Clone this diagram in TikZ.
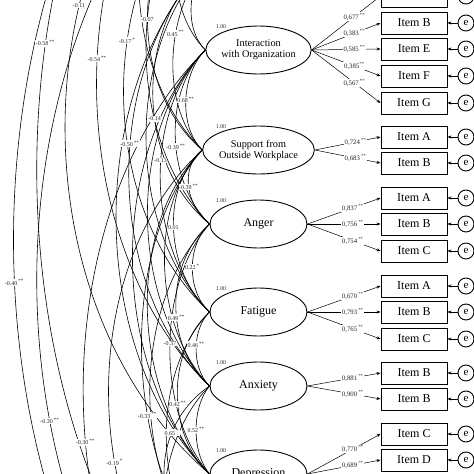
\documentclass[tikz,border=0pt]{standalone}
\usepackage{fontspec}
\setmainfont{Liberation Serif}
\usetikzlibrary{shapes.geometric,arrows.meta}
\newcommand\mysig[1]{\,\textsuperscript{#1}}
\newcommand\ArcDraw[6]{\draw[cov] (#1) .. controls +(-#3,{0.8*#4}) and +(-#3,{-0.8*#4}) .. (#2);}
\newcommand\ArcLabel[6]{\path (#1) .. controls +(-#3,{0.8*#4}) and +(-#3,{-0.8*#4}) .. node[cl,pos=#5]{#6} (#2);}
\newcommand\ArcList[1]{%
 #1{I.west}{S.west}{24}{30}{.5}{0.68\mysig{**}}
 #1{S.west}{An.west}{23}{22}{.5}{-0.39\mysig{**}}
 #1{An.west}{F.west}{23}{26}{.49}{0.22\mysig{*}}
 #1{F.west}{Ax.west}{18}{22}{.45}{0.46\mysig{**}}
 #1{Ax.west}{D.west}{18}{27}{.5}{0.52\mysig{**}}
 #1{I.west}{An.west}{43}{52}{.55}{-0.39\mysig{**}}
 #1{S.west}{F.west}{43}{49}{.48}{0.01}
 #1{An.west}{Ax.west}{45}{49}{.57}{0.49\mysig{**}}
 #1{F.west}{D.west}{43}{49}{.56}{0.42\mysig{**}}
 #1{T1}{S.west}{44}{57}{.40}{0.45\mysig{**}}
 #1{I.west}{F.west}{63}{79}{.43}{-0.13}
 #1{An.west}{D.west}{53}{75}{.48}{-0.37}
 #1{T1}{An.west}{76}{79}{.59}{-0.14}
 #1{Ax.west}{B1}{61}{52}{.29}{0.65\mysig{*}}
 #1{T1}{Ax.west}{108}{128}{.44}{-0.50\mysig{**}}
 #1{T2}{S.west}{78}{84}{.53}{-0.07}
 #1{T2}{F.west}{115}{133}{.40}{-0.17\mysig{*}}
 #1{T3}{Ax.west}{151}{182}{.465}{-0.54\mysig{**}}
 #1{Ts}{Bs}{231}{300}{.388}{-0.58\mysig{**}}
 #1{T3}{D.west}{193}{208}{.345}{-0.11}
 #1{Tu}{Bu}{262}{320}{.535}{-0.40\mysig{**}}
 #1{Tv}{Bv}{231}{274}{.637}{-0.30\mysig{**}}
 #1{I.west}{B3}{166}{207}{.56}{-0.30\mysig{**}}
 #1{S.west}{B2}{130}{150}{.61}{-0.19\mysig{*}}
 #1{S.west}{B1}{86}{123}{.63}{-0.33\mysig{**}}
}
\begin{document}
\begin{tikzpicture}[x=1pt,y=-1pt,
  lat/.style={draw,ellipse,line width=0.9pt,minimum width=97pt,minimum height=48pt,inner sep=0pt,align=center,font=\fontsize{12}{13}\selectfont},
  lattwo/.style={lat,font=\fontsize{10.3}{11}\selectfont},
  item/.style={draw,line width=0.9pt,minimum width=66pt,minimum height=22pt,inner sep=0pt,font=\fontsize{12}{13}\selectfont},
  err/.style={draw,circle,line width=0.9pt,minimum size=16pt,inner sep=0pt,font=\fontsize{11}{12}\selectfont},
  load/.style={-{Stealth[length=4pt,width=3pt]},line width=0.5pt},
  ld/.style={fill=white,inner sep=0.6pt,font=\fontsize{6.8}{7}\selectfont,text=black!85,pos=0.62},
  cov/.style={line width=0.6pt},
  cl/.style={fill=white,inner sep=0.5pt,font=\fontsize{6}{6.5}\selectfont,text=black!85},
  one/.style={font=\fontsize{5.8}{6}\selectfont,text=black!85}]
\useasboundingbox (0,0) rectangle (474,474);
\clip (0,0) rectangle (474,474);
% latent variables
\node[lattwo] (I) at (258.5,50) {Interaction\\with Organization};
\node[lattwo] (S) at (258.5,150) {Support from\\Outside Workplace};
\node[lat] (An) at (258.5,224) {Anger};
\node[lat] (F) at (258.5,312) {Fatigue};
\node[lat] (Ax) at (258.5,386) {Anxiety};
\node[lat] (D) at (258.5,474) {Depression};
\foreach \n/\y in {I/50,S/150,An/224,F/312,Ax/386,D/474}
  \node[one] (v\n) at (221,\y-23) {1.00};
% hidden ends of covariance arcs
\coordinate (T1) at (210,-40);
\coordinate (T2) at (210,-130);
\coordinate (T3) at (210,-220);
\coordinate (Ts) at (210,-330);
\coordinate (Tu) at (210,-294);
\coordinate (Tv) at (210,-176);
\coordinate (B1) at (210,560);
\coordinate (B2) at (210,650);
\coordinate (B3) at (210,740);
\coordinate (Bs) at (210,670);
\coordinate (Bu) at (210,774);
\coordinate (Bv) at (210,736);
% unlabeled arcs
\ArcDraw{T1}{I.west}{22}{27}{}{}
\ArcDraw{D.west}{B1}{20}{26}{}{}
\ArcDraw{I.west}{Ax.west}{80}{100}{}{}
\ArcDraw{S.west}{Ax.west}{55}{70}{}{}
\ArcDraw{S.west}{D.west}{78}{97}{}{}
\ArcDraw{I.west}{D.west}{100}{127}{}{}
\ArcDraw{T2}{I.west}{43}{54}{}{}
\ArcDraw{T2}{An.west}{85}{106}{}{}
\ArcDraw{T1}{F.west}{85}{105}{}{}
\ArcDraw{F.west}{B1}{58}{74}{}{}
\ArcDraw{An.west}{B1}{80}{100}{}{}
\ArcDraw{T1}{D.west}{125}{155}{}{}
\ArcDraw{T3}{S.west}{90}{110}{}{}
\ArcDraw{Ax.west}{B2}{63}{79}{}{}
% labeled arcs
\ArcList\ArcDraw
\ArcList\ArcLabel
% items
\node[item] (I0) at (414,-4) {};
\node[item] (IB) at (414,23) {Item B};
\node[item] (IE) at (414,49) {Item E};
\node[item] (IF) at (414,76) {Item F};
\node[item] (IG) at (414,103) {Item G};
\node[item] (SA) at (414,137) {Item A};
\node[item] (SB) at (414,163) {Item B};
\node[item] (AnA) at (414,198) {Item A};
\node[item] (AnB) at (414,224) {Item B};
\node[item] (AnC) at (414,251) {Item C};
\node[item] (FA) at (414,286) {Item A};
\node[item] (FB) at (414,312) {Item B};
\node[item] (FC) at (414,339) {Item C};
\node[item] (AxB) at (414,373) {Item B};
\node[item] (AxB2) at (414,399) {Item B};
\node[item] (DC) at (414,434) {Item C};
\node[item] (DD) at (414,460) {Item D};
% loadings
\draw[load] (I.east) -- node[ld]{0,677\mysig{**}} (I0.west);
\draw[load] (I.east) -- node[ld]{0,383\mysig{**}} (IB.west);
\draw[load] (I.east) -- node[ld]{0,585\mysig{**}} (IE.west);
\draw[load] (I.east) -- node[ld]{0,385\textsuperscript{**}} (IF.west);
\draw[load] (I.east) -- node[ld]{0,567\mysig{**}} (IG.west);
\draw[load] (S.east) -- node[ld]{0,724\mysig{**}} (SA.west);
\draw[load] (S.east) -- node[ld]{0,683\mysig{**}} (SB.west);
\draw[load] (An.east) -- node[ld]{0,837\mysig{**}} (AnA.west);
\draw[load] (An.east) -- node[ld]{0,756\mysig{**}} (AnB.west);
\draw[load] (An.east) -- node[ld]{0,754\mysig{**}} (AnC.west);
\draw[load] (F.east) -- node[ld]{0,670\mysig{**}} (FA.west);
\draw[load] (F.east) -- node[ld]{0,793\mysig{**}} (FB.west);
\draw[load] (F.east) -- node[ld]{0,765\mysig{**}} (FC.west);
\draw[load] (Ax.east) -- node[ld]{0,881\mysig{**}} (AxB.west);
\draw[load] (Ax.east) -- node[ld]{0,900\mysig{**}} (AxB2.west);
\draw[load] (D.east) -- node[ld]{0,770\mysig{**}} (DC.west);
\draw[load] (D.east) -- node[ld]{0,689\mysig{**}} (DD.west);
% errors
\node[err] (eI0) at ([xshift=52pt]I0.center) {};
\draw[load] (eI0.west) -- (I0.east);
\foreach \b in {IB,IE,IF,IG,SA,SB,AnA,AnB,AnC,FA,FB,FC,AxB,AxB2,DC,DD}{
  \node[err] (e\b) at ([xshift=52pt]\b.center) {e};
  \draw[load] (e\b.west) -- (\b.east);
}
\end{tikzpicture}
\end{document}
